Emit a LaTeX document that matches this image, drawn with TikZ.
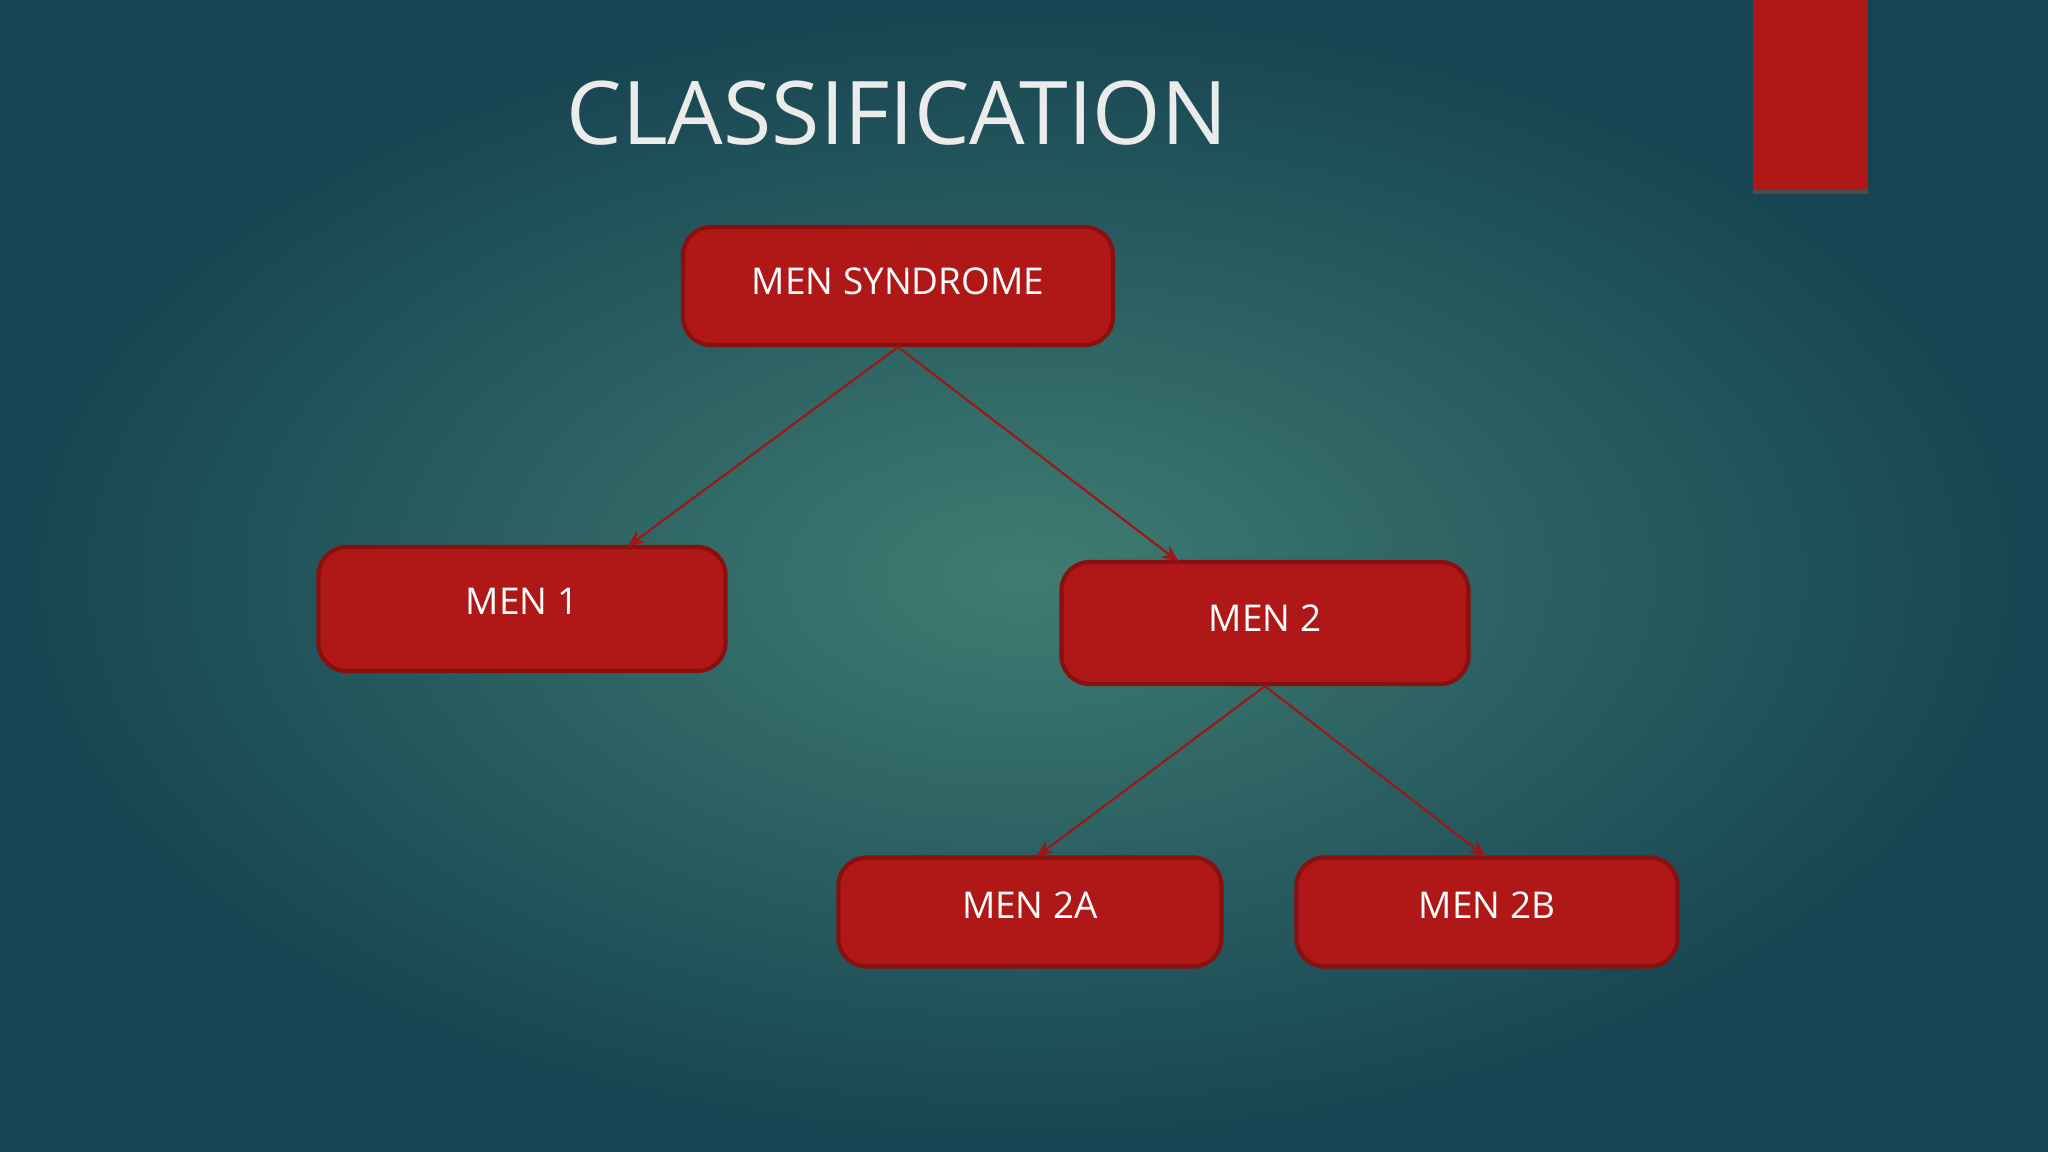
\documentclass[tikz,border=0pt]{standalone}
\usepackage{fontspec}
\setmainfont{Open Sans}
\usetikzlibrary{arrows.meta}
\definecolor{boxred}{HTML}{B01818}
\definecolor{boxedge}{HTML}{8A1010}
\definecolor{bgin}{HTML}{3F7C72}
\definecolor{bgout}{HTML}{174452}
\tikzset{
  box/.style={draw=boxedge, line width=1.2pt, fill=boxred, rounded corners=8pt, text=white, font=\fontsize{10.5}{13}\selectfont, inner sep=0pt},
  link/.style={draw=boxred!90!black, line width=0.6pt, -{Stealth[length=5pt,width=4pt]}}
}
\begin{document}
\begin{tikzpicture}
\useasboundingbox (0,0) rectangle (20.48,-11.52);
\shade[inner color=bgin, outer color=bgout] (0,0) rectangle (20.48,-11.52);
\fill[boxred] (17.53,0) rectangle (18.68,-1.90);
\fill[black!70] (17.53,-1.90) rectangle (18.68,-1.94);
\node[text=white!92!black, font=\fontsize{25}{30}\selectfont] (title) at (8.97,-1.13) {CLASSIFICATION};
\node[box, minimum width=4.30cm, minimum height=1.18cm] (ms) at (8.98,-2.86) {\raisebox{0.1cm}{MEN SYNDROME}};
\node[box, minimum width=4.07cm, minimum height=1.24cm] (m1) at (5.22,-6.09) {\raisebox{0.16cm}{MEN 1}};
\node[box, minimum width=4.07cm, minimum height=1.22cm] (m2) at (12.65,-6.23) {\raisebox{0.1cm}{MEN 2}};
\node[box, minimum width=3.83cm, minimum height=1.09cm] (m2a) at (10.30,-9.12) {\raisebox{0.13cm}{MEN 2A}};
\node[box, minimum width=3.81cm, minimum height=1.09cm] (m2b) at (14.87,-9.12) {\raisebox{0.13cm}{MEN 2B}};
\coordinate (t1) at (6.27,-5.47);
\coordinate (t2) at (11.79,-5.62);
\coordinate (t2a) at (10.36,-8.57);
\coordinate (t2b) at (14.86,-8.57);
\draw[link] (ms.south) -- (t1);
\draw[link] (ms.south) -- (t2);
\draw[link] (m2.south) -- (t2a);
\draw[link] (m2.south) -- (t2b);
\end{tikzpicture}
\end{document}
